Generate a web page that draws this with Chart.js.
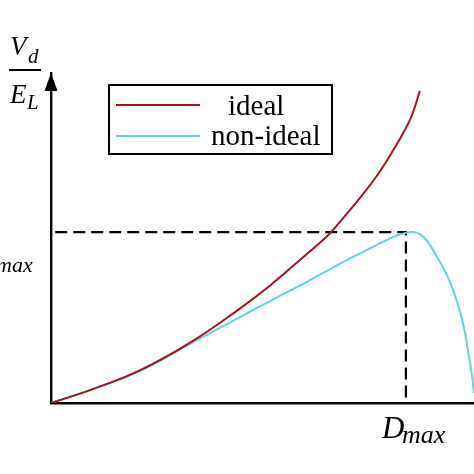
<!DOCTYPE html>
<html>
<head>
<meta charset="utf-8">
<script src="https://cdn.jsdelivr.net/npm/chart.js@4/dist/chart.umd.min.js"></script>
<style>
  html, body { margin: 0; padding: 0; background: #fff; }
  #wrap { width: 474px; height: 474px; position: relative; }
</style>
</head>
<body>
<div id="wrap"><canvas id="chart" width="474" height="474"></canvas></div>
<script>
// duty ratio (x) and normalised voltage (y)
const idealD = [0, 0.092, 0.210, 0.329, 0.440, 0.518, 0.596, 0.653, 0.683, 0.731, 0.770, 0.801, 0.833, 0.853, 0.872];
const idealV = [0, 0.39, 0.99, 1.83, 2.80, 3.56, 4.42, 5.06, 5.49, 6.22, 6.88, 7.49, 8.19, 8.71, 9.46];

const nonIdealD = [0, 0.092, 0.210, 0.329, 0.440, 0.518, 0.596, 0.660, 0.707, 0.738, 0.766, 0.794, 0.820, 0.837, 0.853,
  0.872, 0.891, 0.910, 0.929, 0.946, 0.960, 0.972, 0.981, 0.988, 0.995, 1.0];
const nonIdealV = [0, 0.39, 0.97, 1.79, 2.56, 3.09, 3.61, 4.06, 4.38, 4.58, 4.76, 4.94, 5.09, 5.15, 5.18,
  5.12, 4.88, 4.48, 4.06, 3.58, 3.06, 2.52, 1.97, 1.42, 0.85, 0.30];

const seriesLabels = ['ideal', 'non-ideal'];
const seriesColors = ['#a8121d', '#62d2e3'];

// peak of the non-ideal curve (guide lines)
const Dmax = 0.839;
const Vmax = 5.18;
const guideD = [0.01, Dmax, Dmax];
const guideV = [Vmax, Vmax, 0];

function toPoints(xs, ys) {
  return xs.map(function (x, i) { return { x: x, y: ys[i] }; });
}

const serif = '"Liberation Serif", "DejaVu Serif", serif';

const decorations = {
  id: 'decorations',
  afterDraw: function (chart) {
    const ctx = chart.ctx;
    const xs = chart.scales.x;
    const ys = chart.scales.y;
    const x0 = xs.getPixelForValue(0);
    const yTop = ys.getPixelForValue(ys.max);
    ctx.save();

    // arrow head on the y axis
    ctx.fillStyle = '#000';
    ctx.beginPath();
    ctx.moveTo(x0, yTop);
    ctx.lineTo(x0 - 6.5, yTop + 18);
    ctx.lineTo(x0 + 6.5, yTop + 18);
    ctx.closePath();
    ctx.fill();

    // y axis label V_d / E_L
    ctx.textAlign = 'left';
    ctx.textBaseline = 'alphabetic';
    ctx.font = 'italic 27px ' + serif;
    ctx.fillText('V', 10, 55);
    ctx.fillText('E', 10, 103);
    ctx.font = 'italic 21px ' + serif;
    ctx.fillText('d', 28, 63);
    ctx.fillText('L', 27, 109);
    ctx.fillRect(9, 69, 32, 2);

    // V_max tick label (cut at the left edge)
    const yMaxPx = ys.getPixelForValue(Vmax);
    ctx.font = 'italic 27px ' + serif;
    ctx.textAlign = 'right';
    ctx.fillText('V', -4, yMaxPx + 36);
    ctx.textAlign = 'left';
    ctx.font = 'italic 22px ' + serif;
    ctx.fillText('max', -4, yMaxPx + 40);

    // D_max tick label
    const xMaxPx = xs.getPixelForValue(Dmax);
    ctx.font = 'italic 31px ' + serif;
    ctx.fillText('D', xMaxPx - 24, 438);
    ctx.font = 'italic 26px ' + serif;
    ctx.fillText('max', xMaxPx - 4, 443);

    // legend box
    ctx.strokeStyle = '#000';
    ctx.lineWidth = 2;
    ctx.strokeRect(109, 85, 223, 69);
    const rows = [{ y: 105, tx: 228, ty: 115 }, { y: 136, tx: 211, ty: 145 }];
    ctx.font = '29px ' + serif;
    rows.forEach(function (r, i) {
      const ds = chart.data.datasets[i];
      ctx.strokeStyle = ds.borderColor;
      ctx.beginPath();
      ctx.moveTo(116, r.y);
      ctx.lineTo(200, r.y);
      ctx.stroke();
      ctx.fillStyle = '#000';
      ctx.fillText(ds.label, r.tx, r.ty);
    });
    ctx.restore();
  }
};

new Chart(document.getElementById('chart'), {
  type: 'line',
  data: {
    datasets: [
      {
        label: seriesLabels[0],
        data: toPoints(idealD, idealV),
        borderColor: seriesColors[0],
        borderWidth: 2,
        pointRadius: 0,
        tension: 0.4,
        fill: false
      },
      {
        label: seriesLabels[1],
        data: toPoints(nonIdealD, nonIdealV),
        borderColor: seriesColors[1],
        borderWidth: 2,
        pointRadius: 0,
        tension: 0.4,
        fill: false
      },
      {
        label: 'guide',
        data: toPoints(guideD, guideV),
        borderColor: '#000',
        borderWidth: 2.2,
        borderDash: [12, 6],
        pointRadius: 0,
        tension: 0,
        fill: false
      }
    ]
  },
  options: {
    responsive: false,
    animation: false,
    layout: { padding: { left: 51, right: 0, top: 73, bottom: 71 } },
    plugins: { legend: { display: false }, tooltip: { enabled: false } },
    scales: {
      x: {
        type: 'linear', min: 0, max: 1,
        grid: { display: false, drawTicks: false },
        ticks: { display: false },
        border: { display: true, color: '#000', width: 2.4 }
      },
      y: {
        type: 'linear', min: 0, max: 10,
        grid: { display: false, drawTicks: false },
        ticks: { display: false },
        border: { display: true, color: '#000', width: 2.4 }
      }
    }
  },
  plugins: [decorations]
});
</script>
</body>
</html>
